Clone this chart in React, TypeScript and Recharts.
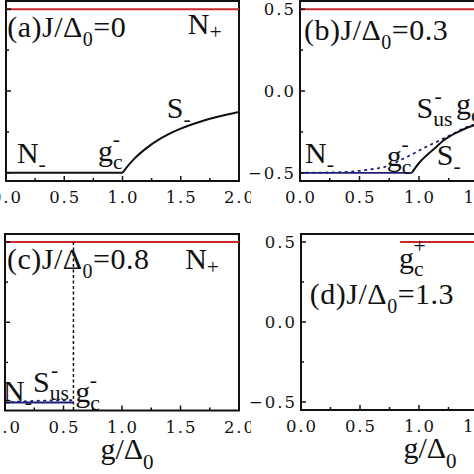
import React from "react";
import {
  Line,
  LineChart,
  ReferenceArea,
  ReferenceDot,
  XAxis,
  YAxis,
} from "recharts";

const FONT = '"Liberation Serif", "Times New Roman", serif';
const TICK_FONT = '"DejaVu Serif", serif';
const RED = "#c8282c";
const NAVY = "#1f1f7a";
const INK = "#111";

// ticks
const xMajorTicks = [0, 0.5, 1, 1.5, 2];
const xMinorTicks = [0.25, 0.75, 1.25, 1.75];
const xTickLabels = ["0.0", "0.5", "1.0", "1.5", "2.0"];
const yMajorTicks = [-0.5, 0, 0.5];
const yMinorTicks = [-0.25, 0.25];
const yTickLabels = ["\u22120.5", "0.0", "0.5"];

// (a) J/Δ0 = 0
const aUpperG = [0, 2];
const aUpperE = [0.5, 0.5];
const aNormalG = [0, 1.0];
const aNormalE = [-0.5, -0.5];
const aSuperG = [1.0, 1.05, 1.1, 1.2, 1.3, 1.4, 1.5, 1.6, 1.7, 1.8, 1.9, 2.0];
const aSuperE = [-0.5, -0.455, -0.415, -0.352, -0.302, -0.262, -0.23, -0.203, -0.18, -0.16, -0.143, -0.128];

// (b) J/Δ0 = 0.3
const bUpperG = [0, 2];
const bUpperE = [0.5, 0.5];
const bNormalG = [0, 0.94];
const bNormalE = [-0.5, -0.5];
const bSuperG = [0.94, 1.0, 1.07, 1.14, 1.2, 1.27, 1.34, 1.4, 1.45, 1.5, 1.6, 1.7, 1.8, 1.9, 2.0];
const bSuperE = [-0.5, -0.44, -0.39, -0.345, -0.305, -0.272, -0.246, -0.226, -0.213, -0.2, -0.18, -0.165, -0.15, -0.14, -0.13];
const bUnstableG = [0, 0.3, 0.5, 0.61, 0.73, 0.85, 0.96, 1.05, 1.15, 1.29, 1.4, 1.5];
const bUnstableE = [-0.5, -0.497, -0.488, -0.477, -0.46, -0.42, -0.38, -0.345, -0.31, -0.26, -0.22, -0.2];

// (c) J/Δ0 = 0.8
const cUpperG = [0, 2];
const cUpperE = [0.5, 0.5];
const cNormalG = [0, 0.585];
const cNormalE = [-0.5, -0.5];
const cUnstableG = [0, 0.15, 0.3, 0.45, 0.585];
const cUnstableE = [-0.5, -0.493, -0.489, -0.487, -0.486];
const cCriticalG = [0.585, 0.585];
const cCriticalE = [0.5, -0.55];

// (d) J/Δ0 = 1.3
const dUpperG = [0.84, 2];
const dUpperE = [0.5, 0.5];

const pts = (g: number[], e: number[]) => g.map((x, i) => ({ g: x, e: e[i] }));

function XTick(props: any) {
  const { x, y, payload } = props;
  const i = xMajorTicks.indexOf(payload.value);
  const major = i >= 0;
  return (
    <g>
      <line x1={x} x2={x} y1={y} y2={y - (major ? 5 : 3)} stroke={INK} strokeWidth={1.5} />
      {major && (
        <text x={x + 1} y={y + 22} textAnchor="middle" fontFamily={TICK_FONT} fontSize={16.5} letterSpacing={2} fill={INK}>
          {xTickLabels[i]}
        </text>
      )}
    </g>
  );
}

function YTick(props: any) {
  const { x, y, payload } = props;
  const i = yMajorTicks.indexOf(payload.value);
  const major = i >= 0;
  return (
    <g>
      <line x1={x} x2={x + (major ? 5 : 3)} y1={y} y2={y} stroke={INK} strokeWidth={1.5} />
      {major && (
        <text x={x - 4} y={y + 6} textAnchor="end" fontFamily={TICK_FONT} fontSize={16.5} letterSpacing={2} fill={INK}>
          {yTickLabels[i]}
        </text>
      )}
    </g>
  );
}

type Seg = { t: string; kind?: "sub" | "sup"; shift?: number; dx?: number; size?: number };

function Annot({ viewBox, segs, size, spacing }: { viewBox?: any; segs: Seg[]; size: number; spacing?: number }) {
  const x = viewBox?.x ?? 0;
  const y = viewBox?.y ?? 0;
  let cur = 0;
  return (
    <text x={x} y={y} fontFamily={FONT} fontSize={size} letterSpacing={spacing ?? 0} fill={INK}>
      {segs.map((s, i) => {
        const target =
          s.shift ?? (s.kind === "sub" ? size * 0.3 : s.kind === "sup" ? -size * 0.5 : 0);
        const dy = target - cur;
        cur = target;
        return (
          <tspan key={i} dy={dy} dx={s.dx ?? 0} fontSize={s.size ?? (s.kind ? size * 0.72 : size)}>
            {s.t}
          </tspan>
        );
      })}
    </text>
  );
}

function Note({ g, e, segs, size = 30, spacing }: { g: number; e: number; segs: Seg[]; size?: number; spacing?: number }) {
  return (
    <ReferenceDot
      x={g}
      y={e}
      r={0}
      fill="none"
      stroke="none"
      ifOverflow="visible"
      label={<Annot segs={segs} size={size} spacing={spacing} />}
    />
  );
}

const title = (tag: string, j: string): Seg[] => [
  { t: `(${tag})J/\u0394` },
  { t: "0", kind: "sub", shift: 9, size: 20 },
  { t: `=${j}` },
];

function AxisTitle({ viewBox, dx }: { viewBox?: any; dx: number }) {
  const cx = (viewBox?.x ?? 0) + (viewBox?.width ?? 0) / 2 + dx;
  const y = (viewBox?.y ?? 0) + 48;
  return (
    <text x={cx} y={y} textAnchor="middle" fontFamily={FONT} fontSize={30} fill={INK}>
      <tspan>{"g/\u0394"}</tspan>
      <tspan dy={10} fontSize={21}>0</tspan>
    </text>
  );
}

const ML = 70;
const MT = 12;
const MB = 70;
const MR = 12;

function Panel({
  left,
  top,
  plotW,
  plotH,
  titleDx,
  children,
}: {
  left: number;
  top: number;
  plotW: number;
  plotH: number;
  titleDx?: number;
  children: React.ReactNode;
}) {
  return (
    <div style={{ position: "absolute", left: left - ML, top: top - MT }}>
      <LineChart
        width={ML + plotW + MR}
        height={MT + plotH + MB}
        margin={{ top: MT, right: MR, left: 0, bottom: 0 }}
      >
        <XAxis
          type="number"
          dataKey="g"
          domain={[0, 2]}
          ticks={[...xMajorTicks, ...xMinorTicks].sort((a, b) => a - b)}
          interval={0}
          tick={XTick}
          tickSize={0}
          tickMargin={0}
          tickLine={false}
          axisLine={false}
          height={MB}
          allowDataOverflow
          label={
            titleDx !== undefined
              ? { content: (p: any) => <AxisTitle viewBox={p.viewBox} dx={titleDx} /> }
              : undefined
          }
        />
        <YAxis
          type="number"
          dataKey="e"
          domain={[-0.55, 0.55]}
          ticks={[...yMajorTicks, ...yMinorTicks].sort((a, b) => a - b)}
          interval={0}
          tick={YTick}
          tickSize={0}
          tickMargin={0}
          tickLine={false}
          axisLine={false}
          width={ML}
          allowDataOverflow
        />
        <ReferenceArea x1={0} x2={2} y1={-0.55} y2={0.55} fill="none" stroke={INK} strokeWidth={2} fillOpacity={0} />
        {children}
      </LineChart>
    </div>
  );
}

const sub = (t: string, shift = 8): Seg => ({ t, kind: "sub", shift });
const sup = (t: string, dx: number): Seg => ({ t, kind: "sup", shift: -15, dx });

export default function App() {
  return (
    <div
      style={{
        position: "fixed",
        left: 0,
        top: 0,
        width: 474,
        height: 474,
        overflow: "hidden",
        background: "#fff",
      }}
    >
      {/* (a) */}
      <Panel left={6} top={0.5} plotW={233} plotH={180}>
        <Line data={pts(aUpperG, aUpperE)} dataKey="e" stroke={RED} strokeWidth={2} dot={false} isAnimationActive={false} />
        <Line data={pts(aNormalG, aNormalE)} dataKey="e" stroke={INK} strokeWidth={2} dot={false} isAnimationActive={false} />
        <Line data={pts(aSuperG, aSuperE)} dataKey="e" type="monotone" stroke={INK} strokeWidth={2} dot={false} isAnimationActive={false} />
        <Note g={0.01} e={0.327} spacing={0.5} segs={title("a", "0")} />
        <Note g={1.56} e={0.351} segs={[{ t: "N" }, sub("+", 5)]} />
        <Note g={0.094} e={-0.443} segs={[{ t: "N" }, sub("-")]} />
        <Note g={0.79} e={-0.425} segs={[{ t: "g" }, sub("c"), sup("-", -10)]} />
        <Note g={1.38} e={-0.168} segs={[{ t: "S" }, sub("-")]} />
      </Panel>

      {/* (b) */}
      <Panel left={300} top={0.5} plotW={238} plotH={180}>
        <Line data={pts(bUpperG, bUpperE)} dataKey="e" stroke={RED} strokeWidth={2} dot={false} isAnimationActive={false} />
        <Line data={pts(bUnstableG, bUnstableE)} dataKey="e" type="monotone" stroke={NAVY} strokeWidth={1.8} strokeDasharray="1.5 5" strokeLinecap="round" dot={false} isAnimationActive={false} />
        <Line data={pts(bNormalG, bNormalE)} dataKey="e" stroke={NAVY} strokeWidth={1.8} dot={false} isAnimationActive={false} />
        <Line data={pts(bSuperG, bSuperE)} dataKey="e" type="monotone" stroke={INK} strokeWidth={2} dot={false} isAnimationActive={false} />
        <Note g={0.034} e={0.309} spacing={0.5} segs={title("b", "0.3")} />
        <Note g={0.042} e={-0.443} segs={[{ t: "N" }, sub("-")]} />
        <Note g={0.73} e={-0.46} segs={[{ t: "g" }, sub("c"), sup("-", -10)]} />
        <Note g={0.98} e={-0.168} segs={[{ t: "S" }, sub("us"), sup("-", -18)]} />
        <Note g={1.31} e={-0.138} segs={[{ t: "g" }, sub("c")]} />
        <Note g={1.15} e={-0.455} segs={[{ t: "S" }, sub("-")]} />
      </Panel>

      {/* (c) */}
      <Panel left={5} top={234} plotW={234} plotH={176.5} titleDx={5}>
        <Line data={pts(cUpperG, cUpperE)} dataKey="e" stroke={RED} strokeWidth={2} dot={false} isAnimationActive={false} />
        <Line data={pts(cCriticalG, cCriticalE)} dataKey="e" stroke={INK} strokeWidth={1.5} strokeDasharray="3 2.5" dot={false} isAnimationActive={false} />
        <Line data={pts(cNormalG, cNormalE)} dataKey="e" stroke={NAVY} strokeWidth={1.8} dot={false} isAnimationActive={false} />
        <Line data={pts(cUnstableG, cUnstableE)} dataKey="e" stroke={NAVY} strokeWidth={1.8} strokeDasharray="1.5 5" strokeLinecap="round" dot={false} isAnimationActive={false} />
        <Note g={0.017} e={0.329} spacing={0.5} segs={title("c", "0.8")} />
        <Note g={1.54} e={0.329} segs={[{ t: "N" }, sub("+", 5)]} />
        <Note g={-0.017} e={-0.492} segs={[{ t: "N" }, sub("-")]} />
        <Note g={0.24} e={-0.437} segs={[{ t: "S" }, sub("us"), sup("-", -18)]} />
        <Note g={0.6} e={-0.498} segs={[{ t: "g" }, sub("c"), sup("-", -10)]} />
      </Panel>

      {/* (d) */}
      <Panel left={301} top={234} plotW={236} plotH={176} titleDx={11}>
        <Line data={pts(dUpperG, dUpperE)} dataKey="e" stroke={RED} strokeWidth={2} dot={false} isAnimationActive={false} />
        <Note g={0.83} e={0.338} segs={[{ t: "g" }, sub("c"), sup("+", -10)]} />
        <Note g={0.075} e={0.11} spacing={0.5} segs={title("d", "1.3")} />
      </Panel>
    </div>
  );
}
